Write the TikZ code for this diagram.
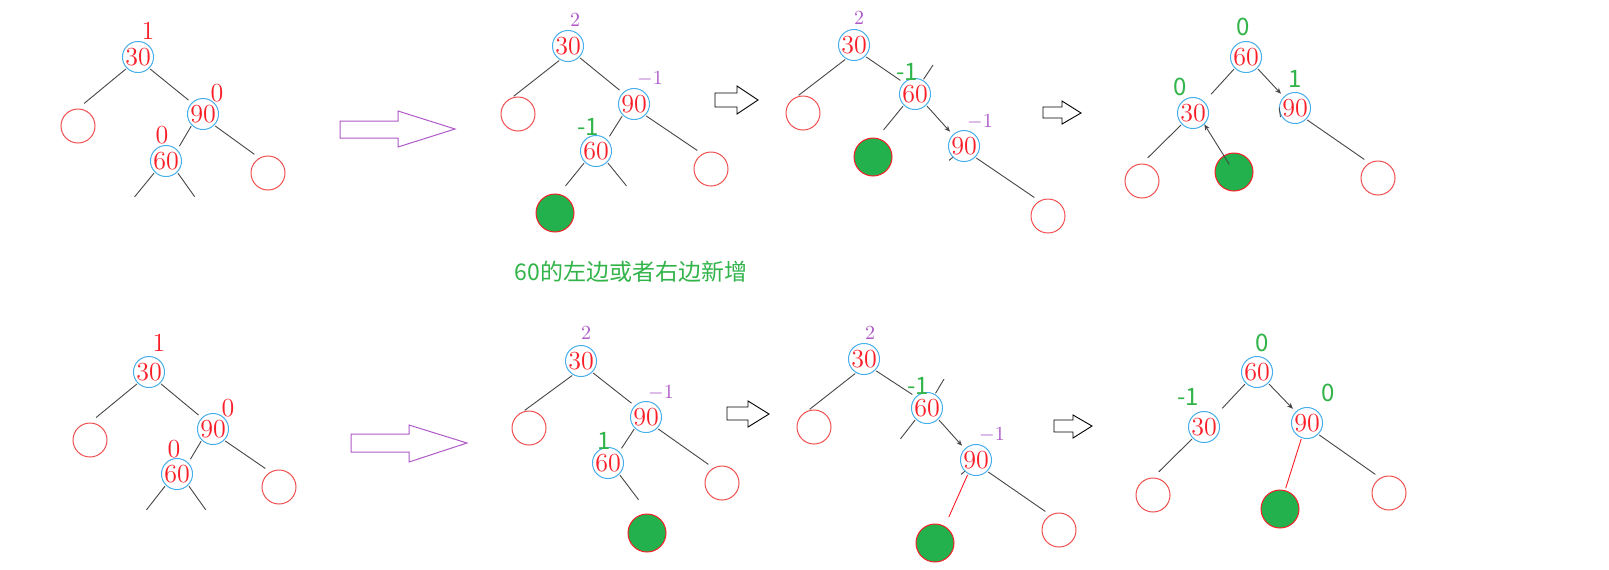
\documentclass[tikz,border=0pt]{standalone}
\usepackage{amsmath}
\usepackage{fontspec}
\usepackage{tikz}
\usetikzlibrary{arrows.meta}
\newfontfamily\cjk{Noto Sans CJK SC}
\definecolor{numred}{RGB}{250,30,40}
\definecolor{ringblue}{RGB}{70,175,235}
\definecolor{leafred}{RGB}{240,80,80}
\definecolor{newgreen}{RGB}{34,177,76}
\definecolor{txtgreen}{RGB}{50,180,75}
\definecolor{balpurple}{RGB}{175,90,200}
\definecolor{linegray}{RGB}{70,70,70}

\begin{document}
\begin{tikzpicture}[x=0.5pt,y=-0.5pt,
  key/.style={circle,draw=ringblue,line width=0.5pt,minimum size=15pt,inner sep=0pt,
    text=numred,font=\fontsize{13}{13}\selectfont},
  leaf/.style={circle,draw=leafred,line width=0.5pt,minimum size=17pt,inner sep=0pt},
  newleaf/.style={circle,draw=numred,fill=newgreen,line width=0.5pt,minimum size=19pt,inner sep=0pt},
  edge/.style={draw=linegray,line width=0.45pt,shorten <=0.5pt,shorten >=2pt},
  ledge/.style={edge,shorten >=4pt},
  redge/.style={draw=numred,line width=0.45pt,shorten <=0.5pt,shorten >=1pt},
  tipedge/.style={edge,-{Stealth[length=3pt,width=2.5pt]}},
  balold/.style={text=numred,font=\fontsize{13}{13}\selectfont,inner sep=0pt},
  balup/.style={text=balpurple,font=\fontsize{10}{10}\selectfont,inner sep=0pt},
  balnew/.style={text=txtgreen,font=\cjk\fontsize{12}{12}\selectfont,inner sep=0pt},
  bigarrow/.style={draw=balpurple,line width=0.5pt,fill=white},
  smallarrow/.style={draw=black,line width=0.45pt,fill=white}]

% 画布大小
\useasboundingbox[fill=white] (0,0) rectangle (1609,569);

% ===== 上排：插入前 =====
\node[key] (p1n30) at (138,57) {30};
\node[key] (p1n90) at (203,114) {90};
\node[key] (p1n60) at (166,161) {60};
\node[leaf] (p1l) at (78,126) {};
\node[leaf] (p1r) at (268,173) {};
\node[balold] (p1b30) at (148,31) {1};
\node[balold] (p1b90) at (217,93) {0};
\node[balold] (p1b60) at (162,135) {0};
\coordinate (p1c1) at (132,200);
\coordinate (p1c2) at (197,200);
\draw[ledge] (p1n30.south west) -- (p1l.north);
\draw[edge] (p1n30.south east) -- (p1n90.north west);
\draw[edge] (p1n90.south west) -- (p1n60.north east);
\draw[edge,shorten >=3pt] (p1n90.south east) -- (p1r.120);
\draw[edge] (p1n60.south west) -- (p1c1);
\draw[edge] (p1n60.south east) -- (p1c2);

% 紫色大箭头
\draw[bigarrow] (340,121) -- (398,121) -- (398,111) -- (455,129) -- (398,147) -- (398,138) -- (340,138) -- cycle;

% ===== 上排：新增后 =====
\node[key] (p2n30) at (568,46) {30};
\node[key] (p2n90) at (634,104) {90};
\node[key] (p2n60) at (596,151) {60};
\node[leaf] (p2l) at (518,114) {};
\node[leaf] (p2r) at (711,169) {};
\node[newleaf] (p2g) at (555,213) {};
\node[balup] (p2b30) at (575,20) {2};
\node[balup] (p2b90) at (650,79) {$-1$};
\node[balnew] (p2b60) at (588,127) {-1};
\coordinate (p2c1) at (563,189);
\coordinate (p2c2) at (629,189);
\draw[ledge,shorten >=1pt] (p2n30.240) -- (p2l.110);
\draw[edge] (p2n30.south east) -- (p2n90.north west);
\draw[edge] (p2n90.south west) -- (p2n60.north east);
\draw[edge,shorten >=3pt] (p2n90.south east) -- (p2r.120);
\draw[edge] (p2n60.south west) -- (p2c1);
\draw[edge] (p2n60.south east) -- (p2c2);

\node[txtgreen,font=\cjk\fontsize{11.5}{11.5}\selectfont] (note) at (631,272) {60的左边或者右边新增};

\draw[smallarrow] (715,93) -- (737,93) -- (737,86) -- (758,100) -- (737,114) -- (737,107) -- (715,107) -- cycle;

% ===== 上排：右旋 =====
\node[key] (p3n30) at (854,45) {30};
\node[key] (p3n60) at (915,94) {60};
\node[key] (p3n90) at (964,146) {90};
\node[leaf] (p3l) at (803,113) {};
\node[newleaf] (p3g) at (873,157) {};
\node[leaf] (p3r) at (1048,216) {};
\node[balup] (p3b30) at (859,18) {2};
\node[balnew] (p3b60) at (907,72) {-1};
\node[balup] (p3b90) at (980,122) {$-1$};
\coordinate (p3c1) at (881,133);
\coordinate (p3c2) at (933,65);
\coordinate (p3c3) at (946,163);
\draw[ledge,shorten >=1pt] (p3n30.240) -- (p3l.110);
\draw[edge] (p3n30.south east) -- (p3n60.north west);
\draw[edge,shorten >=0pt] (p3n60.60) -- (p3c2);
\draw[edge] (p3n60.south west) -- (p3c1);
\draw[tipedge] (p3n60.south east) -- (p3n90.north west);
\draw[edge,shorten <=0pt] (p3n90.south west) -- (p3c3);
\draw[edge,shorten >=3pt] (p3n90.south east) -- (p3r.120);

\draw[smallarrow] (1043,107) -- (1062,107) -- (1062,101) -- (1081,113) -- (1062,124) -- (1062,118) -- (1043,118) -- cycle;

% ===== 上排：左旋 =====
\node[key] (p4n60) at (1246,57) {60};
\node[key] (p4n30) at (1193,113) {30};
\node[key] (p4n90) at (1295,108) {90};
\node[leaf] (p4l) at (1142,181) {};
\node[newleaf] (p4g) at (1234,172) {};
\node[leaf] (p4r) at (1378,178) {};
\node[balnew] (p4b60) at (1243,27) {0};
\node[balnew] (p4b30) at (1180,87) {0};
\node[balnew] (p4b90) at (1295,79) {1};
\coordinate (p4c1) at (1281,121);
\draw[edge,shorten >=5pt] (p4n60.south west) -- (p4n30.north east);
\draw[tipedge] (p4n60.south east) -- (p4n90.north west);
\draw[edge,shorten <=-3pt] (p4n90.200) -- (p4c1);
\draw[ledge] (p4n30.south west) -- (p4l.north);
\draw[tipedge,shorten <=4.5pt,shorten >=0pt] (p4g.center) -- (p4n30.south east);
\draw[edge,shorten >=3pt] (p4n90.south east) -- (p4r.120);

% ===== 下排：插入前 =====
\node[key] (p5n30) at (149,372) {30};
\node[key] (p5n90) at (213,429) {90};
\node[key] (p5n60) at (177,474) {60};
\node[leaf] (p5l) at (90,440) {};
\node[leaf] (p5r) at (279,487) {};
\node[balold] (p5b30) at (159,343) {1};
\node[balold] (p5b90) at (228,408) {0};
\node[balold] (p5b60) at (174,449) {0};
\coordinate (p5c1) at (144,513);
\coordinate (p5c2) at (208,513);
\draw[ledge] (p5n30.south west) -- (p5l.north);
\draw[edge] (p5n30.south east) -- (p5n90.north west);
\draw[edge] (p5n90.south west) -- (p5n60.north east);
\draw[edge,shorten >=3pt] (p5n90.south east) -- (p5r.120);
\draw[edge] (p5n60.south west) -- (p5c1);
\draw[edge] (p5n60.south east) -- (p5c2);

\draw[bigarrow] (351,434) -- (409,434) -- (409,425) -- (467,443) -- (409,462) -- (409,452) -- (351,452) -- cycle;

% ===== 下排：新增后 =====
\node[key] (p6n30) at (581,361) {30};
\node[key] (p6n90) at (646,417) {90};
\node[key] (p6n60) at (608,463) {60};
\node[leaf] (p6l) at (529,428) {};
\node[leaf] (p6r) at (722,483) {};
\node[newleaf] (p6g) at (647,533) {};
\node[balup] (p6b30) at (586,333) {2};
\node[balup] (p6b90) at (661,393) {$-1$};
\node[balnew] (p6b60) at (604,441) {1};
\coordinate (p6c1) at (641,503);
\draw[ledge,shorten >=1pt] (p6n30.240) -- (p6l.110);
\draw[edge] (p6n30.south east) -- (p6n90.north west);
\draw[edge] (p6n90.south west) -- (p6n60.north east);
\draw[edge,shorten >=3pt] (p6n90.south east) -- (p6r.120);
\draw[edge] (p6n60.south east) -- (p6c1);

\draw[smallarrow] (727,407) -- (748,407) -- (748,401) -- (769,414) -- (748,427) -- (748,420) -- (727,420) -- cycle;

% ===== 下排：先右旋 =====
\node[key] (p7n30) at (864,359) {30};
\node[key] (p7n60) at (927,408) {60};
\node[key] (p7n90) at (976,460) {90};
\node[leaf] (p7l) at (814,427) {};
\node[newleaf] (p7g) at (935,543) {};
\node[leaf] (p7r) at (1059,530) {};
\node[balup] (p7b30) at (870,333) {2};
\node[balnew] (p7b60) at (918,386) {-1};
\node[balup] (p7b90) at (992,435) {$-1$};
\coordinate (p7c1) at (898,442);
\coordinate (p7c2) at (944,379);
\coordinate (p7c3) at (958,477);
\draw[ledge,shorten >=1pt] (p7n30.240) -- (p7l.110);
\draw[edge] (p7n30.south east) -- (p7n60.north west);
\draw[edge,shorten >=0pt] (p7n60.60) -- (p7c2);
\draw[edge] (p7n60.south west) -- (p7c1);
\draw[tipedge] (p7n60.south east) -- (p7n90.north west);
\draw[edge,shorten <=0pt] (p7n90.south west) -- (p7c3);
\draw[redge,shorten >=5pt] (p7n90.240) -- (p7g.60);
\draw[edge,shorten >=3pt] (p7n90.south east) -- (p7r.120);

\draw[smallarrow] (1054,420) -- (1073,420) -- (1073,415) -- (1092,426) -- (1073,438) -- (1073,432) -- (1054,432) -- cycle;

% ===== 下排：再左旋 =====
\node[key] (p8n60) at (1257,372) {60};
\node[key] (p8n30) at (1204,427) {30};
\node[key] (p8n90) at (1307,423) {90};
\node[leaf] (p8l) at (1153,495) {};
\node[newleaf] (p8g) at (1280,509) {};
\node[leaf] (p8r) at (1389,493) {};
\node[balnew] (p8b60) at (1262,343) {0};
\node[balnew] (p8b30) at (1188,397) {-1};
\node[balnew] (p8b90) at (1328,393) {0};
\draw[edge,shorten >=5pt] (p8n60.south west) -- (p8n30.north east);
\draw[tipedge] (p8n60.south east) -- (p8n90.north west);
\draw[ledge] (p8n30.south west) -- (p8l.north);
\draw[redge] (p8n90.250) -- (p8g.75);
\draw[edge,shorten >=3pt] (p8n90.south east) -- (p8r.120);
\end{tikzpicture}
\end{document}
